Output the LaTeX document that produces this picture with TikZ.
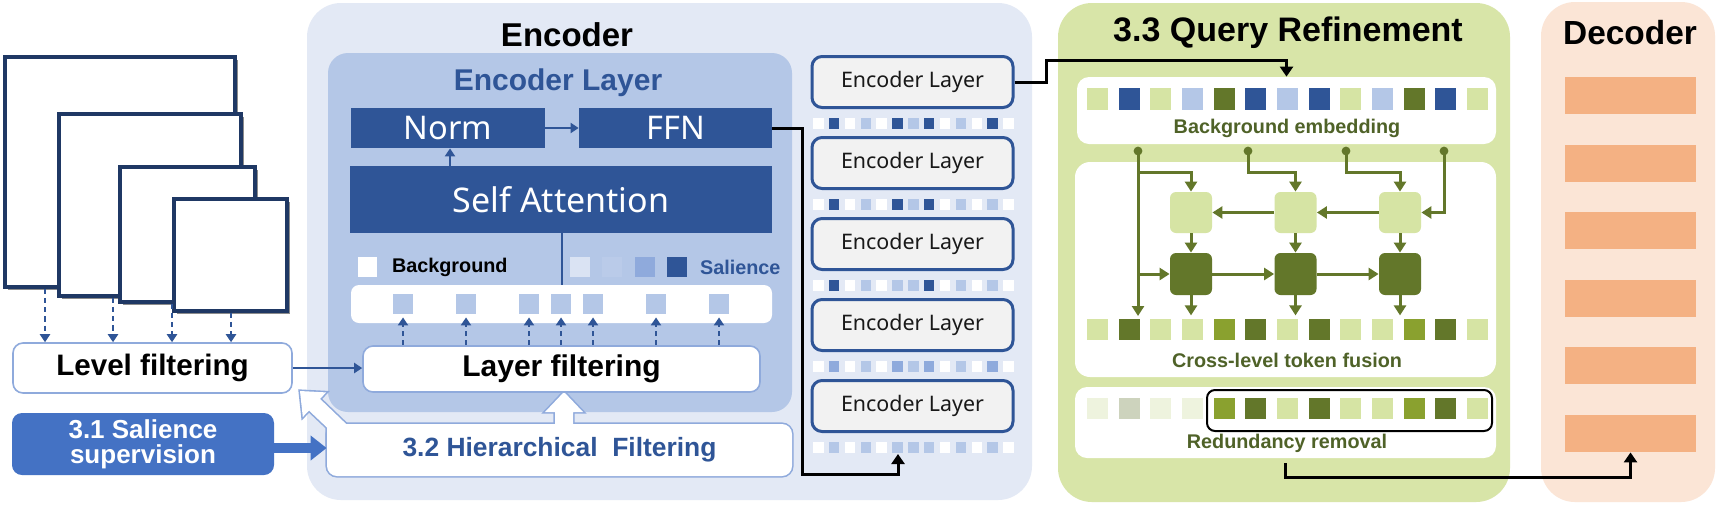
\documentclass[tikz,border=0pt]{standalone}
\usepackage{fontspec}
\setmainfont{Liberation Sans}
\newfontfamily\yh{Noto Sans}
\usetikzlibrary{arrows.meta,shadows,calc}
\newcommand\fsz[1]{\fontsize{#1}{#1}\selectfont}
\definecolor{navy}{HTML}{1F3864}
\definecolor{dblue}{HTML}{2F5597}
\definecolor{mblue}{HTML}{8FAADC}
\definecolor{lblue}{HTML}{B4C7E7}
\definecolor{xlblue}{HTML}{DAE3F3}
\definecolor{encbg}{HTML}{E3E9F5}
\definecolor{salb}{HTML}{4472C4}
\definecolor{elgray}{HTML}{F2F2F2}
\definecolor{qrbg}{HTML}{D8E5A8}
\definecolor{lgreen}{HTML}{D6E4A4}
\definecolor{dgreen}{HTML}{63772A}
\definecolor{mgreen}{HTML}{8AA12F}
\definecolor{vlgreen}{HTML}{EEF3DE}
\definecolor{grgreen}{HTML}{CDD3BD}
\definecolor{olive}{HTML}{4F6228}
\definecolor{decbg}{HTML}{FBE5D6}
\definecolor{decbar}{HTML}{F4B183}
\definecolor{tkW}{HTML}{FFFFFF}
\tikzset{
  wh/.style 2 args={minimum width=#1*0.5pt, minimum height=#2*0.5pt, inner sep=0pt},
  sqr/.style={draw=navy, line width=1.75pt, fill=white,
    drop shadow={shadow xshift=1.5pt, shadow yshift=-1.5pt, fill=black, opacity=0.45}},
  wbox/.style={draw=mblue, line width=0.8pt, fill=white, rounded corners=5pt},
  dbox/.style={fill=dblue, text=white, font=\yh\fsz{16.3}},
  elbox/.style={draw=dblue, line width=1.5pt, fill=elgray, rounded corners=5pt, font=\yh\fsz{10.7}, text=black!90},
  darr/.style={draw=dblue, line width=1pt, -{Triangle[width=5pt,length=4pt]}},
  dasharr/.style={darr, dash pattern=on 2.6pt off 2pt},
  blk/.style={draw=black, line width=1.5pt, -{Triangle[width=6.5pt,length=5pt]}},
  garr/.style={draw=dgreen, line width=1.5pt, -{Triangle[width=6pt,length=5pt]}},
  lab/.style={font=\bfseries\fsz{9.9}},
}
\begin{document}
\begin{tikzpicture}[x=0.5pt,y=-0.5pt]
\useasboundingbox[fill=white] (0,0) rectangle (1717,505);

% ---------- panels ----------
\node[wh={725}{497}, fill=encbg, rounded corners=17pt] (encp) at (669.5,251.5) {};
\node[wh={464}{359}, fill=lblue, rounded corners=10pt] (elp) at (560,232.5) {};
\node[wh={452}{499}, fill=qrbg, rounded corners=17pt] (qrp) at (1284,252.5) {};
\node[wh={174}{500}, fill=decbg, rounded corners=17pt] (decp) at (1628,252) {};

\node[font=\bfseries\fsz{16.5}] (enct) at (567,35) {Encoder};
\node[font=\bfseries\fsz{15}, text=dblue] (elt) at (558,83) {Encoder Layer};
\node[font=\bfseries\fsz{17}] (qrt) at (1288,33) {3.3 Query Refinement};
\node[font=\bfseries\fsz{16.7}] (dect) at (1630,33) {Decoder};

% ---------- input squares ----------
\node[sqr, wh={230}{230}] (sq1) at (120,172) {};
\node[sqr, wh={182}{182}] (sq2) at (150,205) {};
\node[sqr, wh={135}{135}] (sq3) at (187.5,234.5) {};
\node[sqr, wh={113}{112}] (sq4) at (230.5,255) {};

% ---------- hierarchical filtering frame ----------
\begin{scope}[draw=mblue, line width=1.6pt, line join=miter]
  \draw[rounded corners=5pt] (327,424) rectangle (792,476);
  \draw (555,432) -- (555,412) -- (545,412) -- (564,392) -- (583,412) -- (573,412) -- (573,432) -- cycle;
  \draw (350.5,428.2) -- (320,398.9) -- (326.2,392.4) -- (300,391) -- (302.8,417) -- (309,410.5) -- (327,427.5) -- (327,445) -- (355,445) -- cycle;
  \fill[white, rounded corners=5pt] (327,424) rectangle (792,476);
  \fill[white] (555,432) -- (555,412) -- (545,412) -- (564,392) -- (583,412) -- (573,412) -- (573,432) -- cycle;
  \fill[white] (350.5,428.2) -- (320,398.9) -- (326.2,392.4) -- (300,391) -- (302.8,417) -- (309,410.5) -- (327,427.5) -- (327,445) -- (355,445) -- cycle;
\end{scope}
\node[wh={465}{52}, font=\bfseries\fsz{13.2}, text=dblue] (hier) at (559.5,450) {3.2 Hierarchical\ \ Filtering};

% ---------- left boxes ----------
\node[wbox, wh={279}{50}, font=\bfseries\fsz{14.8}] (lev) at (152.5,368) {Level filtering};
\node[wh={262}{62}, fill=salb, rounded corners=5pt, text=white, align=center,
      font=\bfseries\fontsize{13}{12.5}\selectfont] (sal) at (143,444) {3.1 Salience\\supervision};

% ---------- encoder layer internals ----------
\node[dbox, wh={194}{40}] (norm) at (448,128) {Norm};
\node[dbox, wh={193}{40}] (ffn) at (675.5,128) {FFN};
\node[dbox, wh={422}{67}, font=\yh\fsz{17}] (sa) at (561,199.5) {Self Attention};

\fill[white] (358,257) rectangle (377,277);
\node[lab, anchor=west] (lbg) at (385,267) {Background};
\fill[xlblue] (570,257) rectangle (590,277);
\fill[lblue!85!xlblue] (602,257) rectangle (622,277);
\fill[mblue] (635,257) rectangle (655,277);
\fill[dblue] (667,257) rectangle (687,277);
\node[lab, anchor=west, text=dblue] (lsal) at (693,267) {Salience};

\node[wh={421}{38}, fill=white, rounded corners=4pt] (strip) at (561.5,304) {};
\foreach \xx in {393,456,519,551,583,646,709} \fill[lblue] (\xx,294) rectangle ++(20,20);

\node[wbox, wh={397}{46}, font=\bfseries\fsz{15}] (lay) at (561.5,369) {Layer filtering};

% ---------- encoder stack ----------
\foreach \i/\yy in {1/82,2/163,3/244,4/325,5/406}
  \node[elbox, wh={201}{51}] (el\i) at (912.5,\yy) {Encoder Layer};
\foreach \c [count=\i from 0] in {tkW,dblue,tkW,lblue,tkW,dblue,lblue,dblue,tkW,lblue,tkW,dblue,tkW}
  \fill[fill=\c] (813+15.85*\i,118) rectangle ++(10.5,10.5);
\foreach \c [count=\i from 0] in {tkW,dblue,tkW,lblue,tkW,dblue,lblue,dblue,tkW,lblue,tkW,lblue,tkW}
  \fill[fill=\c] (813+15.85*\i,199) rectangle ++(10.5,10.5);
\foreach \c [count=\i from 0] in {tkW,dblue,tkW,lblue,tkW,lblue,lblue,dblue,tkW,lblue,tkW,lblue,tkW}
  \fill[fill=\c] (813+15.85*\i,280) rectangle ++(10.5,10.5);
\foreach \c [count=\i from 0] in {tkW,mblue,tkW,lblue,tkW,mblue,lblue,mblue,tkW,lblue,tkW,mblue,tkW}
  \fill[fill=\c] (813+15.85*\i,361) rectangle ++(10.5,10.5);
\foreach \c [count=\i from 0] in {tkW,lblue,tkW,lblue,tkW,lblue,lblue,lblue,tkW,lblue,tkW,lblue,tkW}
  \fill[fill=\c] (813+15.85*\i,442) rectangle ++(10.5,10.5);
\coordinate (t55) at (898,454);

% ---------- query refinement ----------
\node[wh={419}{67}, fill=white, rounded corners=6pt] (bgs) at (1286.5,110.5) {};
\foreach \c [count=\i from 0] in {lgreen,dblue,lgreen,lblue,dgreen,dblue,lblue,dblue,lgreen,lblue,dgreen,dblue,lgreen}
  \fill[fill=\c] (1087+31.67*\i,88) rectangle ++(21,21.5);
\node[lab, text=olive] (lbe) at (1287,128) {Background embedding};

\node[wh={421}{215}, fill=white, rounded corners=7.5pt] (fus) at (1285.5,269.5) {};
\foreach \c [count=\i from 0] in {lgreen,dgreen,lgreen,lgreen,mgreen,dgreen,lgreen,dgreen,lgreen,lgreen,mgreen,dgreen,lgreen}
  \fill[fill=\c] (1087+31.67*\i,319) rectangle ++(21,21);
\node[lab, text=olive] (lcf) at (1287,360) {Cross-level token fusion};

\node[wh={421}{71}, fill=white, rounded corners=6pt] (red) at (1285.5,422.5) {};
\foreach \c [count=\i from 0] in {vlgreen,grgreen,vlgreen,vlgreen,mgreen,dgreen,lgreen,dgreen,lgreen,lgreen,mgreen,dgreen,lgreen}
  \fill[fill=\c] (1087+31.67*\i,398) rectangle ++(21,21);
\node[wh={285}{41}, draw=black, line width=1pt, rounded corners=4pt] (keep) at (1349.5,410.5) {};
\node[lab, text=olive] (lrr) at (1287,443) {Redundancy removal};

\foreach \i/\xx in {1/1191,2/1295.5,3/1400} {
  \node[wh={42}{41}, fill=lgreen, rounded corners=3pt] (tb\i) at (\xx,212.5) {};
  \node[wh={42}{42}, fill=dgreen, rounded corners=3pt] (db\i) at (\xx,274) {};
}
\coordinate (d1) at (1138,151);
\coordinate (d2) at (1248,151);
\coordinate (d3) at (1346,151);
\coordinate (d4) at (1444,151);
\coordinate (cr1) at (1138,316);
\foreach \i in {1,2,3} \coordinate (b\i) at ([yshift=9.5pt]tb\i.north);

\draw[garr] (d1) -- (cr1);
\draw[garr] (b1 -| d1) -| (tb1.north);
\draw[garr] (d1 |- db1.west) -- (db1.west);
\draw[garr] (d2) |- (b2) -- (tb2.north);
\draw[garr] (d3) |- (b3) -- (tb3.north);
\draw[garr] (d4) |- (tb3.east);
\draw[garr] (tb3.west) -- (tb2.east);
\draw[garr] (tb2.west) -- (tb1.east);
\draw[garr] (db1.east) -- (db2.west);
\draw[garr] (db2.east) -- (db3.west);
\foreach \i in {1,2,3} {
  \draw[garr] (tb\i.south) -- (db\i.north);
  \draw[garr] (db\i.south) -- ([yshift=-10pt]db\i.south);
}
\foreach \p in {d1,d2,d3,d4} \fill[dgreen] (\p) circle (2.2pt);

% ---------- decoder ----------
\foreach \i in {1,...,6}
  \node[wh={131}{37}, fill=decbar] (dec\i) at (1630.5,{95.5+67.6*(\i-1)}) {};

% ---------- connectors ----------
\foreach \xx/\s in {45/sq1,113/sq2,172/sq3,231/sq4}
  \draw[dasharr] (\s.south -| \xx,0) -- (lev.north -| \xx,0);
\draw[darr] (lev.east) -- (lev.east -| lay.west);
\draw[draw=salb, line width=5pt, -{Triangle[width=12pt,length=8pt]}] (sal.east |- 0,448) -- (hier.west |- 0,448);
\draw[darr] (norm) -- (ffn);
\draw[darr] (sa.north -| 450,0) -- (norm.south -| 450,0);
\draw[dblue, line width=1.2pt] (sa.south -| 562,0) -- (strip.north -| 562,0);
\foreach \xx in {403,466,529,561,593,656,719}
  \draw[dasharr, shorten >=-3pt] (lay.north -| \xx,0) -- (strip.south -| \xx,0);

\draw[blk] (ffn.east) -- ++(30,0) |- ([yshift=-10pt]t55) -- (t55);
\draw[blk] (el1.east) -- ++(32,0) |- ([yshift=8pt]bgs.north) -- (bgs.north);
\draw[blk] ([yshift=-2.5pt]red.south) |- ([yshift=-12.5pt]dec6.south) -- (dec6.south);
\end{tikzpicture}
\end{document}
